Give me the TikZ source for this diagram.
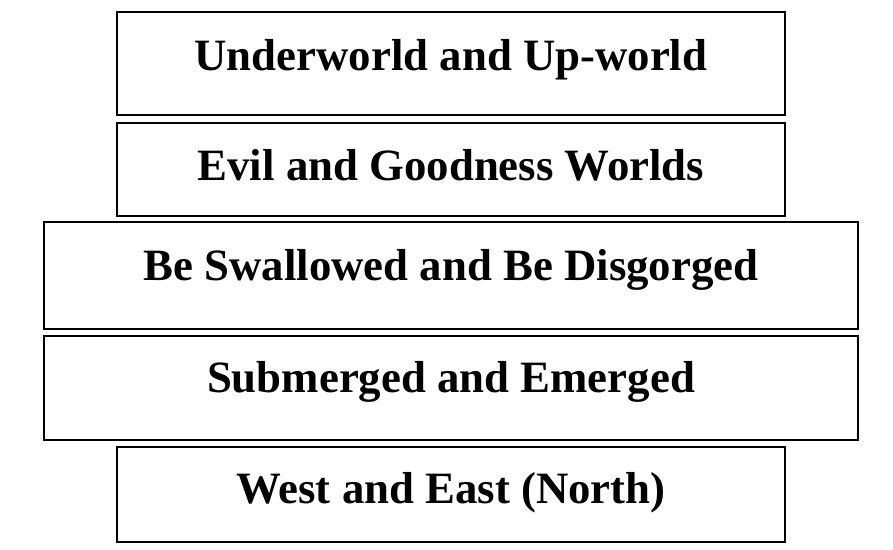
\documentclass[tikz,border=0pt]{standalone}
\usepackage{fontspec}
\setmainfont{Liberation Serif}
\usepackage{xcolor}

\begin{document}
\begin{tikzpicture}[x=1pt, y=-1pt,
        layer/.style={draw, rectangle, line width=2.6pt, inner sep=0pt,
            font=\fontsize{44.8}{50}\selectfont\bfseries, text height=30pt}]
        \useasboundingbox (0,0) rectangle (893,549);

        % Draw the narrow layers on top
        \node[layer, minimum width=668pt, minimum height=103pt, text depth=17pt] (under) at (451, 63.5) {Underworld and Up-world};
        \node[layer, minimum width=668pt, minimum height=93pt, text depth=9pt] (evil) at (451, 169.5) {Evil and Goodness Worlds};

        % Draw the wide layers in the middle
        \node[layer, minimum width=814pt, minimum height=107pt, text depth=21pt] (swallow) at (451, 275.5) {Be Swallowed and Be Disgorged};
        \node[layer, minimum width=814pt, minimum height=104pt, text depth=22pt] (submerge) at (451, 388) {Submerged and Emerged};

        % Draw the last layer
        \node[layer, minimum width=668pt, minimum height=95pt, text depth=13pt] (west) at (451, 494.5) {West and East (North)};

    \end{tikzpicture}
\end{document}
